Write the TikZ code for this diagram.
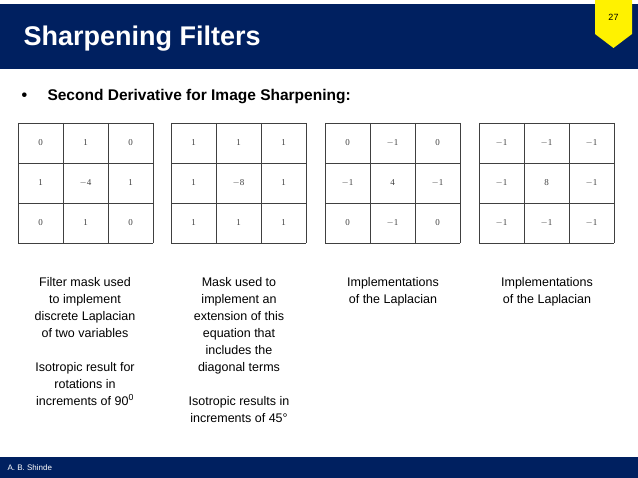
\documentclass[tikz,border=0pt]{standalone}
\usepackage{fontspec}
\setmainfont{Liberation Sans}
\setsansfont{Liberation Sans}
\newfontfamily\mathlike{Liberation Serif}
\begin{document}
\begin{tikzpicture}[x=1pt,y=-1pt,
  captext/.style={align=center,font=\fontsize{12.5}{17}\selectfont,anchor=north,inner sep=0},
  cellnum/.style={font=\mathlike\fontsize{9}{10}\selectfont,text=black!75},
  gridline/.style={black!75,line width=0.8pt}]
\definecolor{navy}{RGB}{0,32,96}
\useasboundingbox (0,0) rectangle (638,478);
\fill[white] (0,0) rectangle (638,478);
\fill[navy] (0,4) rectangle (638,69);
\fill[navy] (0,457) rectangle (638,478);
\fill[yellow] (595,0) -- (632,0) -- (632,34) -- (613.5,48) -- (595,34) -- cycle;
\node[font=\fontsize{9}{10}\selectfont] (pg) at (613.5,17) {27};
\node[anchor=west,text=white,font=\bfseries\fontsize{27}{29}\selectfont] (title) at (20,39) {Sharpening Filters};
\node[anchor=west,font=\bfseries\fontsize{16}{18}\selectfont] (bul) at (18,97) {•};
\node[anchor=west,font=\bfseries\fontsize{15.5}{18}\selectfont] (sub) at (44,97) {Second Derivative for Image Sharpening:};
\node[anchor=west,text=white,font=\fontsize{8}{9}\selectfont] (auth) at (4,468) {A. B. Shinde};
\foreach \gx/\vals in {18/{0,1,0,1,$-$4,1,0,1,0},171/{1,1,1,1,$-$8,1,1,1,1},325/{0,$-$1,0,$-$1,4,$-$1,0,$-$1,0},479/{$-$1,$-$1,$-$1,$-$1,8,$-$1,$-$1,$-$1,$-$1}}{
  \foreach \k in {0,1,2,3}{
    \draw[gridline] (\gx+45*\k,123) -- (\gx+45*\k,243);
    \draw[gridline] (\gx,123+40*\k) -- (\gx+135,123+40*\k);
  }
  \foreach \v [count=\i from 0] in \vals {
    \pgfmathsetmacro\cx{\gx+22.5+45*mod(\i,3)}
    \pgfmathsetmacro\cy{143+40*floor(\i/3)}
    \node[cellnum] at (\cx,\cy) {\v};
  }
}
\node[captext] (c1) at (85,277) {Filter mask used\\to implement\\discrete Laplacian\\of two variables\\[17pt]Isotropic result for\\rotations in\\increments of 90\textsuperscript{0}};
\node[captext] (c2) at (239,277) {Mask used to\\implement an\\extension of this\\equation that\\includes the\\diagonal terms\\[17pt]Isotropic results in\\increments of 45°};
\node[captext] (c3) at (393,277) {Implementations\\of the Laplacian};
\node[captext] (c4) at (547,277) {Implementations\\of the Laplacian};
\end{tikzpicture}
\end{document}
